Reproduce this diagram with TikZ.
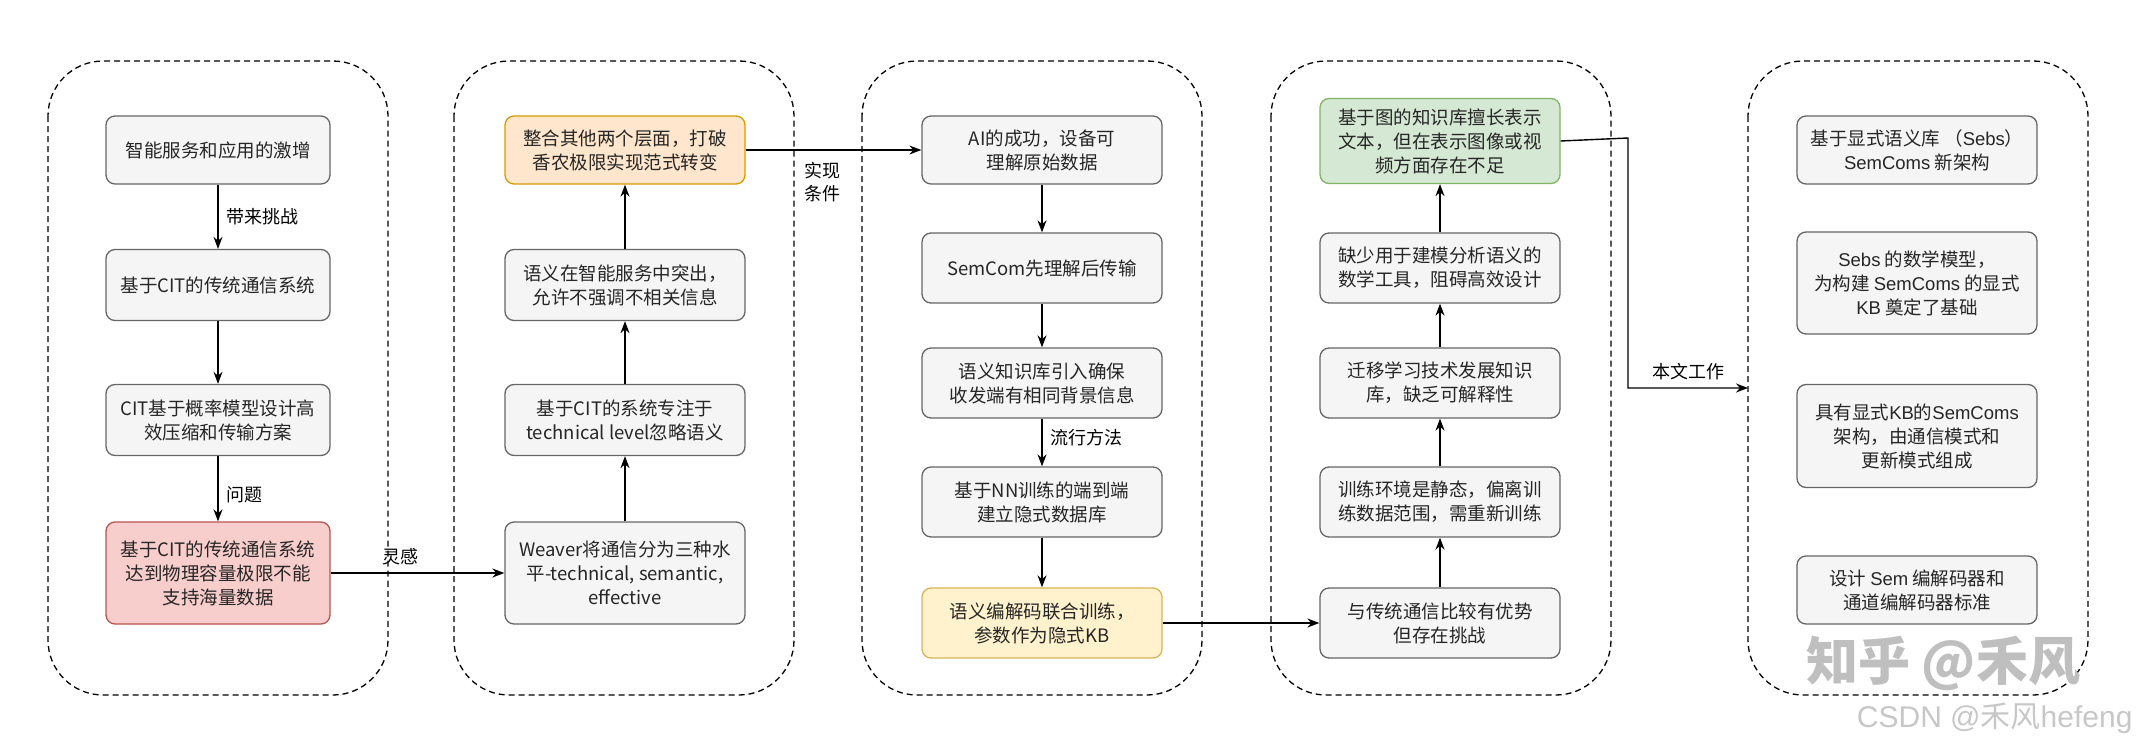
\documentclass[tikz,border=0pt]{standalone}
\usepackage{fontspec}
\setmainfont{Noto Sans CJK SC}
\newfontfamily\rfont{Liberation Sans}
\usetikzlibrary{arrows.meta}
\definecolor{gf}{HTML}{F5F5F5}\definecolor{gd}{HTML}{666666}
\definecolor{of}{HTML}{FFE6CC}\definecolor{od}{HTML}{D79B00}
\definecolor{rf}{HTML}{F8CECC}\definecolor{rd}{HTML}{B85450}
\definecolor{grf}{HTML}{D5E8D4}\definecolor{grd}{HTML}{82B366}
\definecolor{yf}{HTML}{FFF2CC}\definecolor{yd}{HTML}{D6B656}
\begin{document}
\begin{tikzpicture}[x=1pt,y=-1pt,
  box/.style={draw=gd,fill=gf,line width=1.3pt,rounded corners=9pt,align=center,font=\fontsize{18.5}{24}\selectfont,inner sep=1pt,text=black!85},
  cont/.style={draw,dash pattern=on 6pt off 4pt,line width=1.3pt,rounded corners=55pt},
  arr/.style={-{Stealth[length=12pt,width=9pt]},line width=1.4pt},
  lab/.style={font=\fontsize{18}{23}\selectfont,align=center}]
\useasboundingbox (0,0) rectangle (2136,752);
% containers
\foreach \x in {48,454,862,1271,1748}{\draw[cont] (\x,61) rectangle ++(340,634);}
% column 1
\node[box,minimum width=224pt,minimum height=68pt] (a1) at (218,150) {智能服务和应用的激增};
\node[box,minimum width=224pt,minimum height=71pt] (a2) at (218,285) {基于CIT的传统通信系统};
\node[box,minimum width=224pt,minimum height=71pt] (a3) at (218,420) {CIT基于概率模型设计高\\效压缩和传输方案};
\node[box,fill=rf,draw=rd,minimum width=224pt,minimum height=102pt] (a4) at (218,573) {基于CIT的传统通信系统\\达到物理容量极限不能\\支持海量数据};
\draw[arr] (a1) -- node[lab,right,xshift=4pt]{带来挑战} (a2);
\draw[arr] (a2) -- (a3);
\draw[arr] (a3) -- node[lab,right,xshift=4pt,pos=0.6]{问题} (a4);
% column 2
\node[box,fill=of,draw=od,minimum width=240pt,minimum height=68pt] (b1) at (625,150) {整合其他两个层面，打破\\香农极限实现范式转变};
\node[box,minimum width=240pt,minimum height=71pt] (b2) at (625,285) {语义在智能服务中突出，\\允许不强调不相关信息};
\node[box,minimum width=240pt,minimum height=71pt] (b3) at (625,420) {基于CIT的系统专注于\\technical level忽略语义};
\node[box,minimum width=240pt,minimum height=102pt] (b4) at (625,573) {Weaver将通信分为三种水\\平-technical, semantic,\\effective};
\draw[arr] (b4) -- (b3);
\draw[arr] (b3) -- (b2);
\draw[arr] (b2) -- (b1);
\draw[arr] (a4) -- node[lab,above,pos=0.4,yshift=4pt]{灵感} (b4);
% column 3
\node[box,minimum width=240pt,minimum height=68pt] (c1) at (1042,150) {AI的成功，设备可\\理解原始数据};
\node[box,minimum width=240pt,minimum height=70pt] (c2) at (1042,268) {SemCom先理解后传输};
\node[box,minimum width=240pt,minimum height=70pt] (c3) at (1042,383) {语义知识库引入确保\\收发端有相同背景信息};
\node[box,minimum width=240pt,minimum height=70pt] (c4) at (1042,502) {基于NN训练的端到端\\建立隐式数据库};
\node[box,fill=yf,draw=yd,minimum width=240pt,minimum height=70pt] (c5) at (1042,623) {语义编解码联合训练，\\参数作为隐式KB};
\draw[arr] (c1) -- (c2);
\draw[arr] (c2) -- (c3);
\draw[arr] (c3) -- node[lab,right,xshift=4pt,pos=0.4]{流行方法} (c4);
\draw[arr] (c4) -- (c5);
\draw[arr] (b1) -- (c1);
\node[lab] at (822,182) {实现\\条件};
% column 4
\node[box,fill=grf,draw=grd,minimum width=240pt,minimum height=85pt] (d1) at (1440,141) {基于图的知识库擅长表示\\文本，但在表示图像或视\\频方面存在不足};
\node[box,minimum width=240pt,minimum height=70pt] (d2) at (1440,268) {缺少用于建模分析语义的\\数学工具，阻碍高效设计};
\node[box,minimum width=240pt,minimum height=70pt] (d3) at (1440,383) {迁移学习技术发展知识\\库，缺乏可解释性};
\node[box,minimum width=240pt,minimum height=70pt] (d4) at (1440,502) {训练环境是静态，偏离训\\练数据范围，需重新训练};
\node[box,minimum width=240pt,minimum height=70pt] (d5) at (1440,623) {与传统通信比较有优势\\但存在挑战};
\draw[arr] (d5) -- (d4);
\draw[arr] (d4) -- (d3);
\draw[arr] (d3) -- (d2);
\draw[arr] (d2) -- (d1);
\draw[arr] (c5) -- (d5);
\coordinate (e0) at (1748,388);
\draw[arr] (d1.east) -- (1628,138) -- (1628,388) -- node[lab,above,yshift=4pt]{本文工作} (e0);
% column 5
\node[box,minimum width=240pt,minimum height=68pt] (e1) at (1917,150) {基于显式语义库 （{\rfont Sebs}）\\{\rfont SemComs} 新架构};
\node[box,minimum width=240pt,minimum height=102pt] (e2) at (1917,283) {{\rfont Sebs} 的数学模型，\\为构建 {\rfont SemComs} 的显式\\{\rfont KB} 奠定了基础};
\node[box,minimum width=240pt,minimum height=103pt] (e3) at (1917,436) {具有显式{\rfont KB}的{\rfont SemComs}\\架构，由通信模式和\\更新模式组成};
\node[box,minimum width=240pt,minimum height=68pt] (e4) at (1917,590) {设计 {\rfont Sem} 编解码器和\\通道编解码器标准};
% watermark
\node[text=black!25,font=\fontsize{52}{52}\selectfont\bfseries] at (1943,663) {知乎 @禾风};
\node[text=black!22,font=\fontsize{30}{30}\selectfont,anchor=east] at (2136,718) {{\rfont CSDN @}禾风{\rfont hefeng}};
\end{tikzpicture}
\end{document}
